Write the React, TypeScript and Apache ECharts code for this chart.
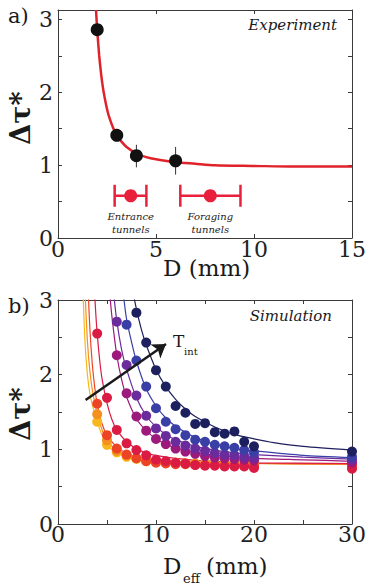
import React, { useEffect, useRef } from 'react';
import * as echarts from 'echarts';

const FONT = '"DejaVu Serif", "Liberation Serif", serif';

// ---------- Panel a (Experiment) ----------
const expD = [2, 3, 4, 6];
const expTau = [2.86, 1.41, 1.13, 1.06];
const errD = [4, 6];
const errTau = [1.13, 1.06];
const errLow = [0.97, 0.87];
const errHigh = [1.28, 1.25];

const fitD = [1.94, 2.0, 2.1, 2.2, 2.3, 2.4, 2.5, 2.6, 2.8, 3.0, 3.25, 3.5, 4, 4.5, 5, 6, 7, 8, 10, 12, 15];
const fitTau = [3.13, 2.86, 2.51, 2.25, 2.05, 1.9, 1.77, 1.67, 1.52, 1.41, 1.32, 1.25, 1.16, 1.11, 1.08, 1.04, 1.02, 1.0, 0.99, 0.98, 0.98];

const tunnelNames = ['Entrance\ntunnels', 'Foraging\ntunnels'];
const tunnelD = [3.71, 7.77];
const tunnelTau = [0.58, 0.58];
const tunnelLow = [2.89, 6.24];
const tunnelHigh = [4.51, 9.31];

// ---------- Panel b (Simulation) ----------
const simX = [4, 5, 6, 7, 8, 9, 10, 11, 12, 13, 14, 15, 16, 17, 18, 19, 20, 30];
const simYellow = [1.37, 1.06, 0.96, 0.9, 0.87, 0.84, 0.83, 0.82, 0.82, 0.81, 0.81, 0.81, 0.8, 0.8, 0.8, 0.8, 0.8, 0.8];
const simOrange = [1.47, 1.12, 0.98, 0.92, 0.88, 0.85, 0.83, 0.82, 0.82, 0.81, 0.81, 0.8, 0.8, 0.8, 0.8, 0.8, 0.79, 0.79];
const simRedOrange = [1.61, 1.19, 1.01, 0.93, 0.88, 0.84, 0.82, 0.81, 0.8, 0.8, 0.79, 0.79, 0.79, 0.78, 0.78, 0.78, 0.78, 0.78];
const simCrimson = [2.55, 1.69, 1.26, 1.08, 0.99, 0.92, 0.86, 0.84, 0.82, 0.81, 0.79, 0.78, 0.78, 0.77, 0.77, 0.77, 0.75, 0.74];
const simMagenta = [null, null, 2.26, 1.75, 1.44, 1.25, 1.14, 1.07, 1.01, 0.97, 0.94, 0.91, 0.89, 0.88, 0.87, 0.86, 0.85, 0.82];
const simPurple = [null, null, 2.71, 2.13, 1.72, 1.45, 1.28, 1.18, 1.1, 1.05, 1.01, 0.98, 0.95, 0.93, 0.92, 0.9, 0.89, 0.86];
const simBlue = [null, null, null, 2.67, 2.19, 1.84, 1.55, 1.37, 1.27, 1.19, 1.13, 1.1, 1.06, 1.04, 1.02, 0.99, 0.96, 0.9];
const simNavy = [null, null, null, null, 2.83, 2.43, 2.06, 1.84, 1.58, 1.49, 1.34, 1.35, 1.23, 1.21, 1.24, 1.1, 1.04, 0.97];

const curveYellowX = [2.55, 2.75, 3, 3.25, 3.5, 4, 4.5, 5, 6, 7, 8, 10, 15, 20, 30];
const curveYellowY = [3.13, 2.45, 2.0, 1.75, 1.6, 1.37, 1.19, 1.06, 0.95, 0.9, 0.87, 0.84, 0.82, 0.81, 0.8];
const curveOrangeX = [2.75, 3, 3.25, 3.5, 4, 4.5, 5, 6, 7, 8, 10, 15, 20, 30];
const curveOrangeY = [3.13, 2.45, 2.05, 1.8, 1.47, 1.26, 1.12, 0.98, 0.92, 0.88, 0.85, 0.82, 0.81, 0.8];
const curveRedOrangeX = [3.08, 3.25, 3.5, 3.75, 4, 4.5, 5, 6, 7, 8, 10, 12, 15, 20, 30];
const curveRedOrangeY = [3.13, 2.62, 2.14, 1.83, 1.61, 1.34, 1.19, 1.03, 0.95, 0.9, 0.86, 0.84, 0.82, 0.81, 0.805];
const curveCrimsonX = [3.72, 3.85, 4, 4.25, 4.5, 5, 5.5, 6, 7, 8, 9, 10, 12, 15, 20, 30];
const curveCrimsonY = [3.13, 2.83, 2.55, 2.2, 1.94, 1.62, 1.4, 1.26, 1.1, 1.01, 0.95, 0.92, 0.88, 0.845, 0.82, 0.81];
const curveMagentaX = [5.25, 5.5, 6, 6.5, 7, 8, 9, 10, 11, 12, 14, 16, 18, 20, 25, 30];
const curveMagentaY = [3.13, 2.78, 2.26, 1.93, 1.7, 1.41, 1.25, 1.14, 1.07, 1.02, 0.96, 0.92, 0.9, 0.88, 0.86, 0.84];
const curvePurpleX = [5.64, 6, 6.5, 7, 8, 9, 10, 11, 12, 14, 16, 18, 20, 25, 30];
const curvePurpleY = [3.13, 2.72, 2.33, 2.07, 1.69, 1.45, 1.3, 1.2, 1.13, 1.04, 0.99, 0.955, 0.93, 0.895, 0.87];
const curveBlueX = [6.62, 7, 7.5, 8, 9, 10, 11, 12, 14, 16, 18, 20, 25, 30];
const curveBlueY = [3.13, 2.74, 2.44, 2.18, 1.81, 1.58, 1.42, 1.31, 1.16, 1.07, 1.01, 0.98, 0.92, 0.89];
const curveNavyX = [7.62, 8, 8.5, 9, 10, 11, 12, 13, 14, 16, 18, 20, 22, 25, 30];
const curveNavyY = [3.13, 2.88, 2.61, 2.4, 2.07, 1.84, 1.67, 1.54, 1.44, 1.3, 1.2, 1.14, 1.09, 1.04, 0.99];

const arrowStart = [2.82, 1.66];
const arrowEnd = [11.02, 2.41];

const simSeries = [
  { name: 'yellow', color: '#f8b81c', pts: simYellow, cx: curveYellowX, cy: curveYellowY },
  { name: 'orange', color: '#f3901f', pts: simOrange, cx: curveOrangeX, cy: curveOrangeY },
  { name: 'redorange', color: '#ee4426', pts: simRedOrange, cx: curveRedOrangeX, cy: curveRedOrangeY },
  { name: 'crimson', color: '#da1b43', pts: simCrimson, cx: curveCrimsonX, cy: curveCrimsonY },
  { name: 'magenta', color: '#9c1a7b', pts: simMagenta, cx: curveMagentaX, cy: curveMagentaY },
  { name: 'purple', color: '#6a2b9c', pts: simPurple, cx: curvePurpleX, cy: curvePurpleY },
  { name: 'blue', color: '#3a3fa6', pts: simBlue, cx: curveBlueX, cy: curveBlueY },
  { name: 'navy', color: '#1d205e', pts: simNavy, cx: curveNavyX, cy: curveNavyY },
];

const AX = '#3a3a3a';

function xAx(grid: number, max: number, position: string, labels: boolean, every: number, margin: number) {
  return {
    type: 'value', gridIndex: grid, min: 0, max, interval: 5, position,
    axisLine: { show: true, onZero: false, lineStyle: { color: AX, width: 1 } },
    axisTick: { show: true, inside: true, length: 4, lineStyle: { color: AX, width: 1 } },
    axisLabel: {
      show: labels, margin, fontSize: 22, lineHeight: 16, fontFamily: FONT, color: '#222',
      formatter: (v: number) => (Math.abs(v % every) < 1e-9 ? String(v) : ''),
    },
    splitLine: { show: false },
  };
}
function yAx(grid: number, max: number, position: string, labels: boolean) {
  return {
    type: 'value', gridIndex: grid, min: 0, max, interval: 0.5, position,
    axisLine: { show: true, onZero: false, lineStyle: { color: AX, width: 1 } },
    axisTick: { show: true, inside: true, length: 4, lineStyle: { color: AX, width: 1 } },
    axisLabel: {
      show: labels, margin: 5, fontSize: 22, lineHeight: 16, fontFamily: FONT, color: '#222',
      formatter: (v: number) => (Math.abs(v - Math.round(v)) < 1e-9 ? String(Math.round(v)) : ''),
    },
    splitLine: { show: false },
  };
}

function txt(text: string, x: number, y: number, font: string, align = 'left', valign = 'middle', extra: any = {}, lineHeight?: number) {
  const style: any = {
    text, font, fill: '#1a1a1a',
    align, textAlign: align, verticalAlign: valign, textVerticalAlign: valign,
  };
  if (lineHeight) style.lineHeight = lineHeight;
  return { type: 'text', x, y, z: 100, ...extra, style };
}

export default function App() {
  const ref = useRef<HTMLDivElement>(null);
  useEffect(() => {
    const chart = echarts.init(ref.current!, null, { renderer: 'svg' });

    const series: any[] = [];
    // Panel a
    series.push({
      type: 'line', xAxisIndex: 0, yAxisIndex: 0, z: 2,
      data: fitD.map((d, i) => [d, fitTau[i]]),
      smooth: 0.25, showSymbol: false, symbol: 'none',
      lineStyle: { color: '#e0232a', width: 2.5 },
    });
    series.push({
      type: 'custom', xAxisIndex: 0, yAxisIndex: 0, z: 3,
      data: errD.map((d, i) => [d, errTau[i], errLow[i], errHigh[i]]),
      encode: { x: 0, y: 1 },
      renderItem: (_p: any, api: any) => {
        const a = api.coord([api.value(0), api.value(2)]);
        const b = api.coord([api.value(0), api.value(3)]);
        return { type: 'line', shape: { x1: a[0], y1: a[1], x2: b[0], y2: b[1] }, style: { stroke: '#333', lineWidth: 1 } };
      },
    });
    series.push({
      type: 'scatter', xAxisIndex: 0, yAxisIndex: 0, z: 4,
      data: expD.map((d, i) => [d, expTau[i]]),
      symbolSize: 13, itemStyle: { color: '#111', opacity: 1 },
    });
    series.push({
      type: 'custom', xAxisIndex: 0, yAxisIndex: 0, z: 3,
      data: tunnelD.map((d, i) => [d, tunnelTau[i], tunnelLow[i], tunnelHigh[i]]),
      encode: { x: 0, y: 1 },
      renderItem: (_p: any, api: any) => {
        const y = api.value(1);
        const a = api.coord([api.value(2), y]);
        const b = api.coord([api.value(3), y]);
        const st = { stroke: '#e8203c', lineWidth: 2.5 };
        const cap = 11;
        return {
          type: 'group',
          children: [
            { type: 'line', shape: { x1: a[0], y1: a[1], x2: b[0], y2: b[1] }, style: st },
            { type: 'line', shape: { x1: a[0], y1: a[1] - cap, x2: a[0], y2: a[1] + cap }, style: st },
            { type: 'line', shape: { x1: b[0], y1: b[1] - cap, x2: b[0], y2: b[1] + cap }, style: st },
          ],
        };
      },
    });
    series.push({
      type: 'scatter', xAxisIndex: 0, yAxisIndex: 0, z: 4,
      data: tunnelD.map((d, i) => ({
        value: [d, tunnelTau[i]],
        label: {
          show: true, position: 'bottom', distance: 8, formatter: tunnelNames[i],
          fontFamily: FONT, fontStyle: 'italic', fontSize: 10, lineHeight: 13, color: '#222', align: 'center',
        },
      })),
      symbolSize: 13, itemStyle: { color: '#e8203c', opacity: 1 },
    });

    // Panel b
    simSeries.forEach((s) => {
      series.push({
        type: 'line', xAxisIndex: 2, yAxisIndex: 2, z: 2,
        data: s.cx.map((x, i) => [x, s.cy[i]]),
        smooth: 0.25, showSymbol: false, symbol: 'none',
        lineStyle: { color: s.color, width: 1.2 },
      });
    });
    simSeries.forEach((s) => {
      series.push({
        type: 'scatter', xAxisIndex: 2, yAxisIndex: 2, z: 3,
        data: simX.map((x, i) => [x, s.pts[i]]).filter((p) => p[1] !== null),
        symbolSize: 10, itemStyle: { color: s.color, opacity: 1 },
      });
    });
    series.push({
      type: 'lines', coordinateSystem: 'cartesian2d', xAxisIndex: 2, yAxisIndex: 2, z: 5,
      data: [{ coords: [arrowStart, arrowEnd] }],
      symbol: ['none', 'arrow'], symbolSize: 13,
      lineStyle: { color: '#1a1a1a', width: 2.5, opacity: 1 },
    });

    const option: any = {
      animation: false,
      backgroundColor: '#ffffff',
      grid: [
        { left: 58, top: 10, width: 295, height: 228 },
        { left: 58, top: 300, width: 295, height: 224 },
      ],
      xAxis: [
        xAx(0, 15, 'bottom', true, 5, 3),
        xAx(0, 15, 'top', false, 5, 3),
        xAx(1, 30, 'bottom', true, 10, 2),
        xAx(1, 30, 'top', false, 10, 2),
      ],
      yAxis: [
        yAx(0, 3.13, 'left', true),
        yAx(0, 3.13, 'right', false),
        yAx(1, 3, 'left', true),
        yAx(1, 3, 'right', false),
      ],
      series,
      graphic: [
        txt('a)', 8, 16, `21px ${FONT}`),
        txt('b)', 8, 306, `21px ${FONT}`),
        txt('Experiment', 337, 25, `italic 15px ${FONT}`, 'right'),
        txt('Simulation', 332, 316, `italic 15px ${FONT}`, 'right'),
        txt('Δτ*', 20, 118, `bold 27px ${FONT}`, 'center', 'middle', { rotation: Math.PI / 2 }),
        txt('Δτ*', 20, 414, `bold 27px ${FONT}`, 'center', 'middle', { rotation: Math.PI / 2 }),
        txt('D (mm)', 163, 268, `23px ${FONT}`, 'left', 'middle', {}, 20),
        txt('D', 163, 566, `23px ${FONT}`, 'left', 'middle', {}, 20),
        txt('eff', 183, 578, `13px ${FONT}`, 'left', 'middle', {}, 12),
        txt('(mm)', 206, 566, `23px ${FONT}`, 'left', 'middle', {}, 20),
        txt('T', 173, 341, `17px ${FONT}`, 'left'),
        txt('int', 184, 351, `10px ${FONT}`, 'left'),
      ],
    };
    chart.setOption(option);
    return () => chart.dispose();
  }, []);
  return (
    <div
      ref={ref}
      style={{ position: 'fixed', left: 0, top: 0, width: 369, height: 584, background: '#fff' }}
    />
  );
}
